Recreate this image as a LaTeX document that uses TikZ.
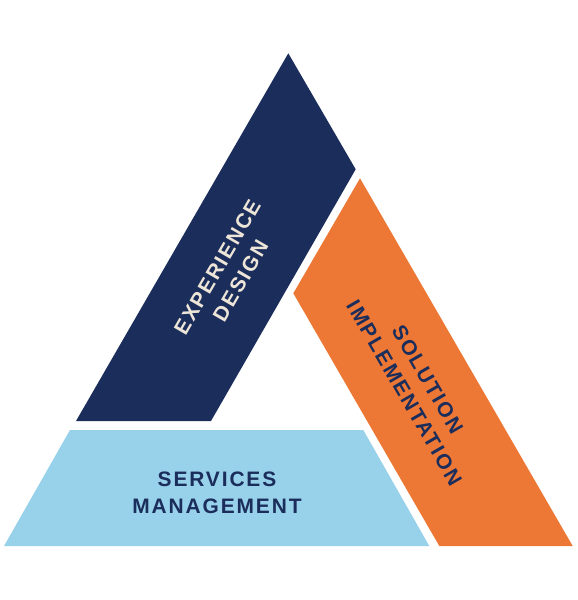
\documentclass[tikz,border=0pt]{standalone}
\usepackage{fontspec}
\newfontfamily\lblfont[LetterSpace=9]{Liberation Sans}
\definecolor{navy}{HTML}{1B2D5B}
\definecolor{orng}{HTML}{ED7835}
\definecolor{lblue}{HTML}{98D1EA}
\definecolor{cream}{HTML}{ECE5D8}
\tikzset{
  lbl/.style={align=center, inner sep=0pt, font=\lblfont\bfseries\fontsize{21}{27}\selectfont},
}
\begin{document}
\begin{tikzpicture}[x=1bp,y=-1bp]
\useasboundingbox (0,0) rectangle (578,600);
% shapes
\fill[navy] (288.3,53.3) -- (355.7,169.3) -- (211,421) -- (76,421) -- cycle;
\fill[orng] (360,178.3) -- (572.7,546) -- (439.3,546) -- (293.3,293.3) -- cycle;
\fill[lblue] (70,430) -- (363.3,430) -- (429.3,546) -- (4,546) -- cycle;
% labels
\node[lbl, text=cream, rotate=60] (exp) at (229,274) {EXPERIENCE\\DESIGN};
\node[lbl, text=navy, rotate=-60] (sol) at (416,386) {SOLUTION\\IMPLEMENTATION};
\node[lbl, text=navy] (srv) at (217,493) {SERVICES\\MANAGEMENT};
\end{tikzpicture}
\end{document}
